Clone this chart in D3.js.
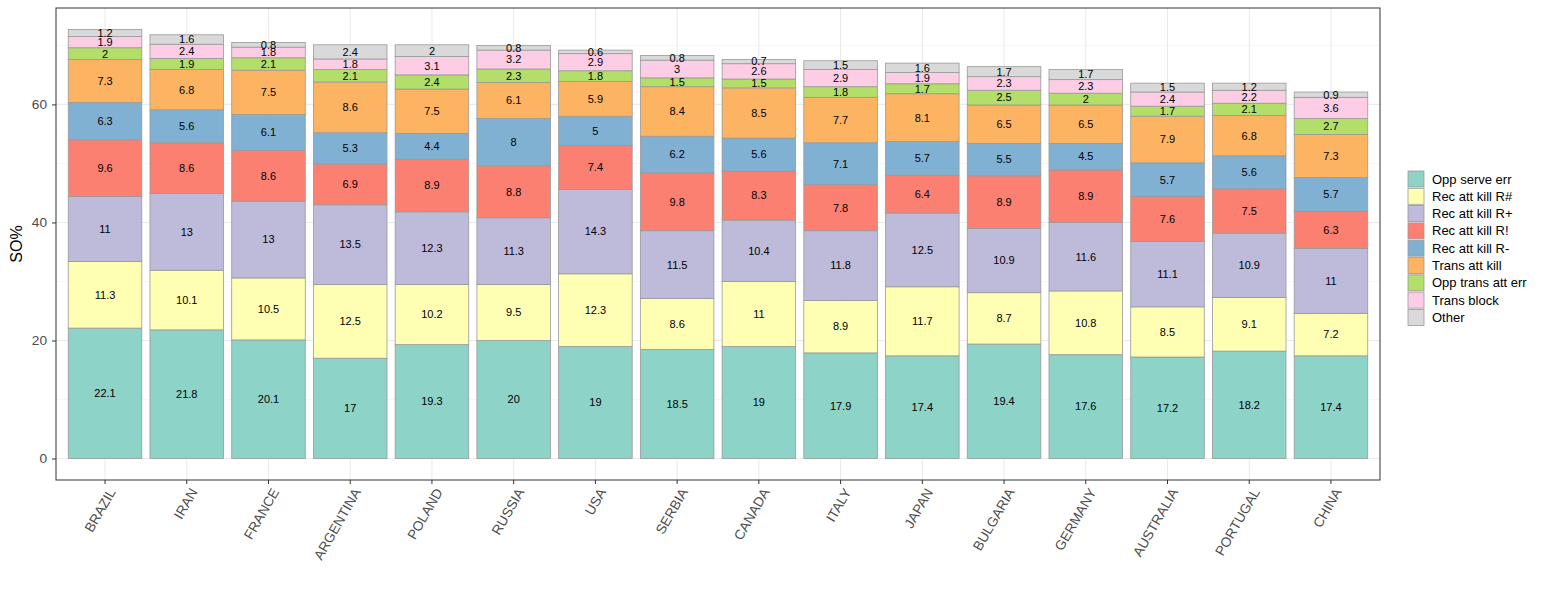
<!DOCTYPE html>
<html><head><meta charset="utf-8">
<script src="https://cdn.jsdelivr.net/npm/d3@7"></script>
<style>body{margin:0;background:#fff}svg{display:block;font-family:"Liberation Sans",Arial,sans-serif}</style>
</head><body>
<svg id="chart" width="1556" height="600"></svg>
<script>
const countries = ["BRAZIL","IRAN","FRANCE","ARGENTINA","POLAND","RUSSIA","USA","SERBIA","CANADA","ITALY","JAPAN","BULGARIA","GERMANY","AUSTRALIA","PORTUGAL","CHINA"];
const seriesNames = ["Opp serve err","Rec att kill R#","Rec att kill R+","Rec att kill R!","Rec att kill R-","Trans att kill","Opp trans att err","Trans block","Other"];
const oppServeErr   = [22.1,21.8,20.1,17,19.3,20,19,18.5,19,17.9,17.4,19.4,17.6,17.2,18.2,17.4];
const recKillRHash  = [11.3,10.1,10.5,12.5,10.2,9.5,12.3,8.6,11,8.9,11.7,8.7,10.8,8.5,9.1,7.2];
const recKillRPlus  = [11,13,13,13.5,12.3,11.3,14.3,11.5,10.4,11.8,12.5,10.9,11.6,11.1,10.9,11];
const recKillRExcl  = [9.6,8.6,8.6,6.9,8.9,8.8,7.4,9.8,8.3,7.8,6.4,8.9,8.9,7.6,7.5,6.3];
const recKillRMinus = [6.3,5.6,6.1,5.3,4.4,8,5,6.2,5.6,7.1,5.7,5.5,4.5,5.7,5.6,5.7];
const transAttKill  = [7.3,6.8,7.5,8.6,7.5,6.1,5.9,8.4,8.5,7.7,8.1,6.5,6.5,7.9,6.8,7.3];
const oppTransErr   = [2,1.9,2.1,2.1,2.4,2.3,1.8,1.5,1.5,1.8,1.7,2.5,2,1.7,2.1,2.7];
const transBlock    = [1.9,2.4,1.8,1.8,3.1,3.2,2.9,3,2.6,2.9,1.9,2.3,2.3,2.4,2.2,3.6];
const other         = [1.2,1.6,0.8,2.4,2,0.8,0.6,0.8,0.7,1.5,1.6,1.7,1.7,1.5,1.2,0.9];
const yTicks = [0,20,40,60];
const colors = ["#8DD3C7","#FFFFB3","#BEBADA","#FB8072","#80B1D3","#FDB462","#B3DE69","#FCCDE5","#D9D9D9"];

const allSeries = [oppServeErr,recKillRHash,recKillRPlus,recKillRExcl,recKillRMinus,transAttKill,oppTransErr,transBlock,other];
const rows = countries.map((c,i)=>{const o={country:c}; seriesNames.forEach((s,j)=>o[s]=allSeries[j][i]); return o;});
const stacked = d3.stack().keys(seriesNames)(rows);
const maxTotal = d3.max(rows, r=>d3.sum(seriesNames, s=>r[s]));

const svg = d3.select("#chart");
const L=56, R=1380, T=8, B=480;
const pad = maxTotal*0.05;
const y = d3.scaleLinear().domain([-pad, maxTotal+pad]).range([B,T]);
const x = d3.scaleBand().domain(countries).range([L,R]).paddingInner(0.1).paddingOuter(0.15);

// grid
const g = svg.append("g");
const minor = [10,30,50,70];
g.selectAll(".mn").data(minor).join("line").attr("x1",L).attr("x2",R).attr("y1",d=>y(d)).attr("y2",d=>y(d)).attr("stroke","#f2f2f2").attr("stroke-width",0.6);
g.selectAll(".mj").data(yTicks).join("line").attr("x1",L).attr("x2",R).attr("y1",d=>y(d)).attr("y2",d=>y(d)).attr("stroke","#ebebeb").attr("stroke-width",1.1);
g.selectAll(".vx").data(countries).join("line").attr("x1",d=>x(d)+x.bandwidth()/2).attr("x2",d=>x(d)+x.bandwidth()/2).attr("y1",T).attr("y2",B).attr("stroke","#ebebeb").attr("stroke-width",1.1);

// bars
const layers = svg.append("g").selectAll("g").data(stacked).join("g").attr("fill",(d,i)=>colors[i]);
layers.selectAll("rect").data(d=>d).join("rect")
  .attr("x",d=>x(d.data.country)).attr("width",x.bandwidth())
  .attr("y",d=>y(d[1])).attr("height",d=>y(d[0])-y(d[1]))
  .attr("stroke","#999999").attr("stroke-width",0.8);
// labels
const lab = svg.append("g").attr("font-size",11).attr("fill","#000").attr("text-anchor","middle");
stacked.forEach(layer=>{
  lab.selectAll(null).data(layer).join("text")
    .attr("x",d=>x(d.data.country)+x.bandwidth()/2)
    .attr("y",d=>y((d[0]+d[1])/2))
    .attr("dy","0.35em")
    .text(d=>d[1]-d[0]>0 ? d3.format("~g")(+(d[1]-d[0]).toFixed(1)) : "");
});

// panel border
svg.append("rect").attr("x",L).attr("y",T).attr("width",R-L).attr("height",B-T).attr("fill","none").attr("stroke","#333333").attr("stroke-width",1);

// axes
const ya = svg.append("g").attr("transform",`translate(${L},0)`).call(d3.axisLeft(y).tickValues(yTicks).tickSize(4).tickPadding(5));
ya.select(".domain").remove();
ya.selectAll("line").attr("stroke","#333333");
ya.selectAll("text").attr("fill","#4d4d4d").attr("font-size",13.7).attr("font-family","Liberation Sans, Arial, sans-serif");
const xa = svg.append("g").attr("transform",`translate(0,${B})`).call(d3.axisBottom(x).tickSize(4).tickSizeOuter(0));
xa.select(".domain").remove();
xa.selectAll("line").attr("stroke","#333333");
xa.selectAll("text").attr("fill","#4d4d4d").attr("font-size",13.7).attr("font-family","Liberation Sans, Arial, sans-serif")
  .attr("text-anchor","end").attr("dy",null).attr("y",0)
  .attr("transform","translate(8,10) rotate(-60)").attr("dominant-baseline","middle");

svg.append("text").attr("transform",`translate(22,${(T+B)/2}) rotate(-90)`).attr("text-anchor","middle").attr("font-size",16).attr("fill","#000").text("SO%");

// legend
const leg = svg.append("g").attr("transform","translate(1408,171)");
seriesNames.forEach((s,i)=>{
  const r = leg.append("g").attr("transform",`translate(0,${i*17.3})`);
  r.append("rect").attr("x",0).attr("y",0).attr("width",16).attr("height",16).attr("fill",colors[i]).attr("stroke","#999999").attr("stroke-width",0.8);
  r.append("text").attr("x",24).attr("y",8).attr("dy","0.35em").attr("font-size",13).attr("fill","#000").text(s);
});
</script>
</body></html>
